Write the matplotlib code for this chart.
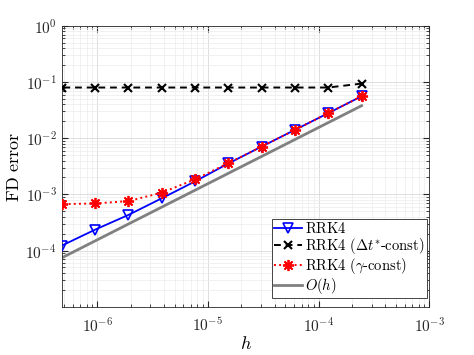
import numpy as np
import matplotlib
matplotlib.use("Agg")
import matplotlib.pyplot as plt
from matplotlib.ticker import LogLocator, NullFormatter, FuncFormatter

# step sizes h = 2^-12 ... 2^-21
h = [2.0**-k for k in range(12, 22)]

err_rrk4 = [0.056, 0.028, 0.0141, 0.0071, 0.00355, 0.0017, 0.00085,
            0.00043, 0.000235, 0.000122]
err_dt_const = [0.094, 0.080, 0.080, 0.080, 0.080, 0.080, 0.080,
                0.080, 0.080, 0.080]
err_gamma_const = [0.056, 0.028, 0.0141, 0.0071, 0.0036, 0.00185, 0.00107,
                   0.00076, 0.00069, 0.00067]
# reference O(h) line, endpoints
h_ref = [h[0], h[-1]]
err_ref = [0.038, 7.4e-5]

labels = [r"$\mathrm{RRK4}$", r"$\mathrm{RRK4\ (}\Delta t^{*}\mathrm{\text{-}const)}$",
          r"$\mathrm{RRK4\ (}\gamma\mathrm{\text{-}const)}$", r"$O(h)$"]

plt.rcParams['mathtext.fontset'] = 'cm'
plt.rcParams['font.family'] = ['Liberation Sans', 'DejaVu Sans']

fig = plt.figure(figsize=(4.74, 3.55), dpi=100)
ax = fig.add_axes([0.13, 0.136, 0.776, 0.791])

ax.loglog(h, err_rrk4, '-', color='#0000ff', lw=1.3, marker='v',
          mfc='none', mec='#0000ff', ms=7, mew=1.2, label=labels[0], zorder=3)
ax.loglog(h, err_dt_const, '--', color='black', lw=1.4, marker='x',
          ms=6, mew=1.5, label=labels[1], zorder=3, dashes=(3.5, 2.5))
ax.loglog(h, err_gamma_const, ':', color='#ff0000', lw=1.4, marker=(8, 2, 0),
          ms=8, mew=1.3, label=labels[2], zorder=4)
ax.loglog(h_ref, err_ref, '-', color='#808080', lw=2.0, label=labels[3], zorder=2)

ax.set_xlim(2.0**-21, 1e-3)
ax.set_ylim(1e-5, 1)
ax.set_xticks([1e-6, 1e-5, 1e-4, 1e-3])
ax.set_yticks([1e-4, 1e-3, 1e-2, 1e-1, 1e0])
ax.xaxis.set_minor_locator(LogLocator(base=10, subs=np.arange(2, 10), numticks=20))
ax.yaxis.set_minor_locator(LogLocator(base=10, subs=np.arange(2, 10), numticks=20))
ax.xaxis.set_minor_formatter(NullFormatter())
ax.yaxis.set_minor_formatter(NullFormatter())

def pow_label(v, pos):
    e = int(round(np.log10(v)))
    return r"$\mathsf{10^{%d}}$" % e

ax.xaxis.set_major_formatter(FuncFormatter(pow_label))
ax.yaxis.set_major_formatter(FuncFormatter(pow_label))

ax.grid(True, which='major', color='#d9d9d9', lw=0.6)
ax.grid(True, which='minor', color='#ececec', lw=0.5)
ax.set_axisbelow(True)
for s in ax.spines.values():
    s.set_color('#262626')
    s.set_linewidth(0.6)
ax.tick_params(which='both', direction='in', top=True, right=True,
               colors='#262626', labelsize=11)
ax.tick_params(which='major', length=4)
ax.tick_params(which='minor', length=2)
ax.tick_params(axis='x', pad=7)

ax.set_xlabel(r"$h$", fontsize=13, labelpad=1)
ax.set_ylabel(r"$\mathrm{FD\ error}$", fontsize=13, labelpad=2)

leg = ax.legend(loc='lower right', fontsize=10.5, handlelength=1.9,
                handletextpad=0.25, borderpad=0.15, labelspacing=0.0,
                borderaxespad=0.0, fancybox=False, framealpha=1,
                edgecolor='#262626', bbox_to_anchor=(0.993, 0.03))
leg.get_frame().set_linewidth(0.6)

fig.savefig("out.png", dpi=100)
